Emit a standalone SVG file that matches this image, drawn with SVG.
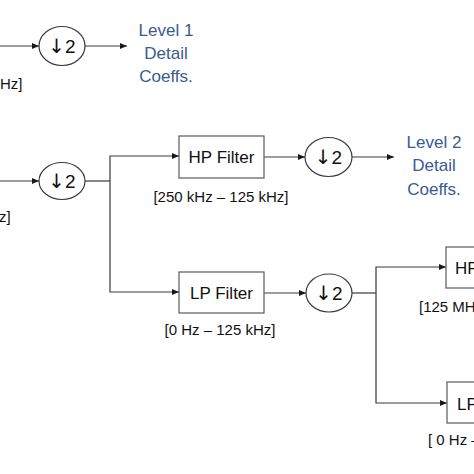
<svg xmlns="http://www.w3.org/2000/svg" width="474" height="474" viewBox="0 0 474 474">
<defs>
<marker id="ah" markerWidth="8" markerHeight="8" refX="7" refY="4" orient="auto" markerUnits="userSpaceOnUse">
<path d="M0,1 L7,4 L0,7 Z" fill="#1a1a1a"/>
</marker>
<style>
.ln{fill:none;stroke:#3a3a3a;stroke-width:1.2}
.ar{marker-end:url(#ah)}
.box{fill:#fff;stroke:#5a5a5a;stroke-width:1.2}
.ell{fill:#fff;stroke:#3a3a3a;stroke-width:1.2}
.t{font-family:"Liberation Sans",Arial,sans-serif;fill:#111}
.lbl{font-size:17px;text-anchor:middle}
.dsl{font-size:19px;text-anchor:middle}
.rng{font-size:15px}
.dn{font-family:"DejaVu Sans",sans-serif;font-size:20px}
.blue{font-family:"Liberation Sans",Arial,sans-serif;font-size:17px;fill:#3b5a92;text-anchor:middle}
</style>
</defs>
<rect width="474" height="474" fill="#fff"/>
<g id="connectors">
<path class="ln ar" d="M0,46 H39"/>
<path class="ln ar" d="M85,46 H127"/>
<path class="ln ar" d="M0,181 H39"/>
<path class="ln" d="M85,181 H110"/>
<path class="ln ar" d="M110,181 V156 H179"/>
<path class="ln ar" d="M110,181 V292 H179"/>
<path class="ln ar" d="M264,157 H305"/>
<path class="ln ar" d="M352,157 H394"/>
<path class="ln ar" d="M264,293 H306"/>
<path class="ln" d="M352,293 H376"/>
<path class="ln ar" d="M376,293 V267 H446"/>
<path class="ln ar" d="M376,293 V403 H447"/>
</g>
<g id="ds1"><ellipse class="ell" cx="62" cy="46" rx="23" ry="19.5"/><text class="t dsl" x="62" y="53"><tspan class="dn">↓</tspan>2</text></g>
<g id="lvl1"><text class="blue" x="166" y="36">Level 1</text><text class="blue" x="166" y="59">Detail</text><text class="blue" x="166" y="82">Coeffs.</text></g>
<g id="lbl-top"><text class="t rng" x="0" y="89">Hz]</text></g>
<g id="ds2"><ellipse class="ell" cx="62" cy="181" rx="23" ry="18.5"/><text class="t dsl" x="62" y="188"><tspan class="dn">↓</tspan>2</text></g>
<g id="lbl-row2"><text class="t rng" x="-1" y="222">z]</text></g>
<g id="hp1"><rect class="box" x="179" y="136" width="85" height="42"/><text class="t lbl" x="221.5" y="163">HP Filter</text><text class="t rng" x="221" y="202" text-anchor="middle">[250 kHz – 125 kHz]</text></g>
<g id="ds3"><ellipse class="ell" cx="328.5" cy="157" rx="23.5" ry="19.5"/><text class="t dsl" x="328.5" y="164"><tspan class="dn">↓</tspan>2</text></g>
<g id="lvl2"><text class="blue" x="434" y="148">Level 2</text><text class="blue" x="434" y="171">Detail</text><text class="blue" x="434" y="195">Coeffs.</text></g>
<g id="lp1"><rect class="box" x="179" y="272" width="85" height="41"/><text class="t lbl" x="221.5" y="299">LP Filter</text><text class="t rng" x="220" y="335" text-anchor="middle">[0 Hz – 125 kHz]</text></g>
<g id="ds4"><ellipse class="ell" cx="329" cy="293" rx="23" ry="19"/><text class="t dsl" x="329" y="300"><tspan class="dn">↓</tspan>2</text></g>
<g id="hp2"><rect class="box" x="446" y="247" width="40" height="41"/><text class="t" style="font-size:17px" x="455" y="274">HP</text><text class="t rng" x="419" y="312">[125 MH</text></g>
<g id="lp2"><rect class="box" x="447" y="382" width="40" height="41"/><text class="t" style="font-size:17px" x="457" y="410">LP</text><text class="t rng" x="428" y="445">[ 0 Hz –</text></g>
</svg>
